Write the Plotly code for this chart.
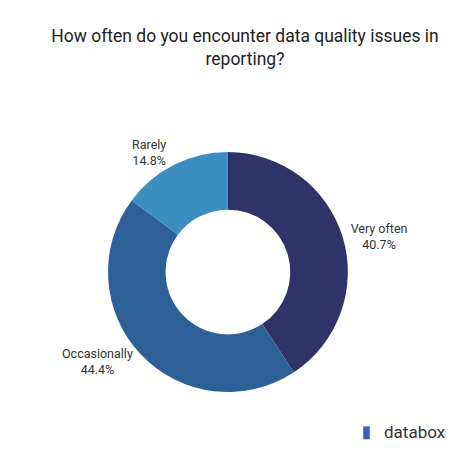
import plotly.graph_objects as go

labels = ['Very often', 'Occasionally', 'Rarely']
values = [40.7, 44.4, 14.8]
colors = ['#2f3468', '#2e6098', '#3a8fc0']

fig = go.Figure()
fig.add_trace(
    go.Pie(
        labels=labels,
        values=values,
        hole=0.52,
        sort=False,
        direction='clockwise',
        rotation=0,
        marker=dict(colors=colors, line=dict(width=0)),
        texttemplate='%{label}<br>%{value:.1f}%',
        textposition='outside',
        textfont=dict(family='Roboto', size=12.5, color='#333333'),
        domain=dict(x=[0.211, 0.717], y=[0.19, 0.696]),
        showlegend=False
    )
)

fig.update_layout(
    width=474, height=474,
    margin=dict(l=0, r=0, t=0, b=0),
    paper_bgcolor='white',
    title=dict(
        text='How often do you encounter data quality issues in<br>reporting?',
        x=0.5, y=0.928, xanchor='center', yanchor='middle',
        font=dict(family='Roboto', size=17.5, color='#222222')
    )
)

fig.add_annotation(
    text='<b>▮</b>', x=0.77, y=0.08, xref='paper', yref='paper',
    showarrow=False, font=dict(size=16, color='#3b5fc0')
)
fig.add_annotation(
    text='databox', x=0.79, y=0.08, xref='paper', yref='paper', xanchor='left',
    showarrow=False, font=dict(family='Roboto', size=17, color='#333333')
)

fig.write_html('out.html')
